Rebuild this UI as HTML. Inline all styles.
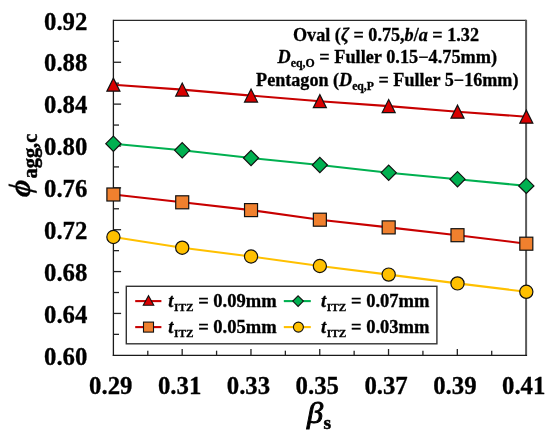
<!DOCTYPE html>
<html><head><meta charset="utf-8"><style>
html,body{margin:0;padding:0;background:#fff;overflow:hidden;}
svg{display:block;filter:blur(0.3px);}
text{font-family:"Liberation Serif","Times New Roman",serif;font-weight:bold;fill:#000;stroke:#000;stroke-width:0.3px;}
</style></head><body>
<svg width="550" height="438" viewBox="0 0 550 438">
<rect width="550" height="438" fill="#fff"/>
<line x1="113.4" y1="20.4" x2="526.1" y2="20.4" stroke="#2a2a2a" stroke-width="1.4"/>
<line x1="526.1" y1="19.7" x2="526.1" y2="355.3" stroke="#5a5a5a" stroke-width="2"/>
<line x1="113.4" y1="19.7" x2="113.4" y2="355.90000000000003" stroke="#1a1a1a" stroke-width="1.3"/>
<line x1="112.80000000000001" y1="355.3" x2="527.1" y2="355.3" stroke="#1a1a1a" stroke-width="1.3"/>
<line x1="113.4" y1="41.33" x2="119.00" y2="41.33" stroke="#222" stroke-width="1.3"/>
<line x1="113.4" y1="62.26" x2="121.10" y2="62.26" stroke="#222" stroke-width="1.3"/>
<line x1="113.4" y1="83.19" x2="119.00" y2="83.19" stroke="#222" stroke-width="1.3"/>
<line x1="113.4" y1="104.12" x2="121.10" y2="104.12" stroke="#222" stroke-width="1.3"/>
<line x1="113.4" y1="125.06" x2="119.00" y2="125.06" stroke="#222" stroke-width="1.3"/>
<line x1="113.4" y1="145.99" x2="121.10" y2="145.99" stroke="#222" stroke-width="1.3"/>
<line x1="113.4" y1="166.92" x2="119.00" y2="166.92" stroke="#222" stroke-width="1.3"/>
<line x1="113.4" y1="187.85" x2="121.10" y2="187.85" stroke="#222" stroke-width="1.3"/>
<line x1="113.4" y1="208.78" x2="119.00" y2="208.78" stroke="#222" stroke-width="1.3"/>
<line x1="113.4" y1="229.71" x2="121.10" y2="229.71" stroke="#222" stroke-width="1.3"/>
<line x1="113.4" y1="250.64" x2="119.00" y2="250.64" stroke="#222" stroke-width="1.3"/>
<line x1="113.4" y1="271.57" x2="121.10" y2="271.57" stroke="#222" stroke-width="1.3"/>
<line x1="113.4" y1="292.51" x2="119.00" y2="292.51" stroke="#222" stroke-width="1.3"/>
<line x1="113.4" y1="313.44" x2="121.10" y2="313.44" stroke="#222" stroke-width="1.3"/>
<line x1="113.4" y1="334.37" x2="119.00" y2="334.37" stroke="#222" stroke-width="1.3"/>
<line x1="147.79" y1="355.3" x2="147.79" y2="350.70" stroke="#222" stroke-width="1.3"/>
<line x1="182.18" y1="355.3" x2="182.18" y2="349.00" stroke="#222" stroke-width="1.3"/>
<line x1="216.58" y1="355.3" x2="216.58" y2="350.70" stroke="#222" stroke-width="1.3"/>
<line x1="250.97" y1="355.3" x2="250.97" y2="349.00" stroke="#222" stroke-width="1.3"/>
<line x1="285.36" y1="355.3" x2="285.36" y2="350.70" stroke="#222" stroke-width="1.3"/>
<line x1="319.75" y1="355.3" x2="319.75" y2="349.00" stroke="#222" stroke-width="1.3"/>
<line x1="354.14" y1="355.3" x2="354.14" y2="350.70" stroke="#222" stroke-width="1.3"/>
<line x1="388.53" y1="355.3" x2="388.53" y2="349.00" stroke="#222" stroke-width="1.3"/>
<line x1="422.93" y1="355.3" x2="422.93" y2="350.70" stroke="#222" stroke-width="1.3"/>
<line x1="457.32" y1="355.3" x2="457.32" y2="349.00" stroke="#222" stroke-width="1.3"/>
<line x1="491.71" y1="355.3" x2="491.71" y2="350.70" stroke="#222" stroke-width="1.3"/>
<polyline points="113.40,84.70 182.22,89.60 251.04,95.60 319.86,101.20 388.68,106.10 457.50,111.70 526.32,116.70" fill="none" stroke="#C80000" stroke-width="2.1"/>
<polyline points="113.40,143.70 182.22,150.30 251.04,158.00 319.86,165.00 388.68,172.70 457.50,179.20 526.32,185.90" fill="none" stroke="#00B050" stroke-width="2.1"/>
<polyline points="113.40,194.50 182.22,202.30 251.04,210.10 319.86,219.70 388.68,227.40 457.50,235.20 526.32,243.70" fill="none" stroke="#C80000" stroke-width="2.1"/>
<polyline points="113.40,237.00 182.22,247.70 251.04,256.50 319.86,266.00 388.68,274.60 457.50,283.40 526.32,291.80" fill="none" stroke="#FFC000" stroke-width="2.1"/>
<polygon points="106.90,91.20 119.90,91.20 113.40,78.20" fill="#D80000" stroke="#111" stroke-width="1.2" stroke-linejoin="miter"/>
<polygon points="175.72,96.10 188.72,96.10 182.22,83.10" fill="#D80000" stroke="#111" stroke-width="1.2" stroke-linejoin="miter"/>
<polygon points="244.54,102.10 257.54,102.10 251.04,89.10" fill="#D80000" stroke="#111" stroke-width="1.2" stroke-linejoin="miter"/>
<polygon points="313.36,107.70 326.36,107.70 319.86,94.70" fill="#D80000" stroke="#111" stroke-width="1.2" stroke-linejoin="miter"/>
<polygon points="382.18,112.60 395.18,112.60 388.68,99.60" fill="#D80000" stroke="#111" stroke-width="1.2" stroke-linejoin="miter"/>
<polygon points="451.00,118.20 464.00,118.20 457.50,105.20" fill="#D80000" stroke="#111" stroke-width="1.2" stroke-linejoin="miter"/>
<polygon points="519.82,123.20 532.82,123.20 526.32,110.20" fill="#D80000" stroke="#111" stroke-width="1.2" stroke-linejoin="miter"/>
<polygon points="113.40,136.10 121.00,143.70 113.40,151.30 105.80,143.70" fill="#00B050" stroke="#111" stroke-width="1.2"/>
<polygon points="182.22,142.70 189.82,150.30 182.22,157.90 174.62,150.30" fill="#00B050" stroke="#111" stroke-width="1.2"/>
<polygon points="251.04,150.40 258.64,158.00 251.04,165.60 243.44,158.00" fill="#00B050" stroke="#111" stroke-width="1.2"/>
<polygon points="319.86,157.40 327.46,165.00 319.86,172.60 312.26,165.00" fill="#00B050" stroke="#111" stroke-width="1.2"/>
<polygon points="388.68,165.10 396.28,172.70 388.68,180.30 381.08,172.70" fill="#00B050" stroke="#111" stroke-width="1.2"/>
<polygon points="457.50,171.60 465.10,179.20 457.50,186.80 449.90,179.20" fill="#00B050" stroke="#111" stroke-width="1.2"/>
<polygon points="526.32,178.30 533.92,185.90 526.32,193.50 518.72,185.90" fill="#00B050" stroke="#111" stroke-width="1.2"/>
<rect x="106.90" y="188.00" width="13" height="13" fill="#F0802E" stroke="#111" stroke-width="1.2"/>
<rect x="175.72" y="195.80" width="13" height="13" fill="#F0802E" stroke="#111" stroke-width="1.2"/>
<rect x="244.54" y="203.60" width="13" height="13" fill="#F0802E" stroke="#111" stroke-width="1.2"/>
<rect x="313.36" y="213.20" width="13" height="13" fill="#F0802E" stroke="#111" stroke-width="1.2"/>
<rect x="382.18" y="220.90" width="13" height="13" fill="#F0802E" stroke="#111" stroke-width="1.2"/>
<rect x="451.00" y="228.70" width="13" height="13" fill="#F0802E" stroke="#111" stroke-width="1.2"/>
<rect x="519.82" y="237.20" width="13" height="13" fill="#F0802E" stroke="#111" stroke-width="1.2"/>
<circle cx="113.40" cy="237.00" r="6.6" fill="#FFC000" stroke="#111" stroke-width="1.2"/>
<circle cx="182.22" cy="247.70" r="6.6" fill="#FFC000" stroke="#111" stroke-width="1.2"/>
<circle cx="251.04" cy="256.50" r="6.6" fill="#FFC000" stroke="#111" stroke-width="1.2"/>
<circle cx="319.86" cy="266.00" r="6.6" fill="#FFC000" stroke="#111" stroke-width="1.2"/>
<circle cx="388.68" cy="274.60" r="6.6" fill="#FFC000" stroke="#111" stroke-width="1.2"/>
<circle cx="457.50" cy="283.40" r="6.6" fill="#FFC000" stroke="#111" stroke-width="1.2"/>
<circle cx="526.32" cy="291.80" r="6.6" fill="#FFC000" stroke="#111" stroke-width="1.2"/>
<text transform="translate(87.40,29.60)" font-size="24.8" text-anchor="end">0.92</text>
<text transform="translate(87.40,71.46)" font-size="24.8" text-anchor="end">0.88</text>
<text transform="translate(87.40,113.32)" font-size="24.8" text-anchor="end">0.84</text>
<text transform="translate(87.40,155.19)" font-size="24.8" text-anchor="end">0.80</text>
<text transform="translate(87.40,197.05)" font-size="24.8" text-anchor="end">0.76</text>
<text transform="translate(87.40,238.91)" font-size="24.8" text-anchor="end">0.72</text>
<text transform="translate(87.40,280.77)" font-size="24.8" text-anchor="end">0.68</text>
<text transform="translate(87.40,322.64)" font-size="24.8" text-anchor="end">0.64</text>
<text transform="translate(87.40,364.50)" font-size="24.8" text-anchor="end">0.60</text>
<text transform="translate(110.80,393.80)" font-size="24.8" text-anchor="middle">0.29</text>
<text transform="translate(179.62,393.80)" font-size="24.8" text-anchor="middle">0.31</text>
<text transform="translate(248.44,393.80)" font-size="24.8" text-anchor="middle">0.33</text>
<text transform="translate(317.26,393.80)" font-size="24.8" text-anchor="middle">0.35</text>
<text transform="translate(386.08,393.80)" font-size="24.8" text-anchor="middle">0.37</text>
<text transform="translate(454.90,393.80)" font-size="24.8" text-anchor="middle">0.39</text>
<text transform="translate(523.72,393.80)" font-size="24.8" text-anchor="middle">0.41</text>
<rect x="126.3" y="286.3" width="310.60" height="57.50" fill="#fff" stroke="#333" stroke-width="1.4"/>
<line x1="135.2" y1="301.1" x2="161.4" y2="301.1" stroke="#C80000" stroke-width="2.1"/>
<polygon points="143.25,305.30 153.75,305.30 148.50,295.70" fill="#D80000" stroke="#111" stroke-width="1.1" stroke-linejoin="miter"/>
<line x1="135.2" y1="327.1" x2="161.4" y2="327.1" stroke="#C80000" stroke-width="2.1"/>
<rect x="143.50" y="322.10" width="10" height="10" fill="#F0802E" stroke="#111" stroke-width="1.1"/>
<line x1="283.8" y1="301.1" x2="310.8" y2="301.1" stroke="#00B050" stroke-width="2.1"/>
<polygon points="298.10,295.80 303.40,301.10 298.10,306.40 292.80,301.10" fill="#00B050" stroke="#111" stroke-width="1.1"/>
<line x1="283.8" y1="327.1" x2="310.8" y2="327.1" stroke="#FFC000" stroke-width="2.1"/>
<circle cx="298.40" cy="327.10" r="5.0" fill="#FFC000" stroke="#111" stroke-width="1.1"/>
<text transform="translate(168.30,306.60) scale(1.0361,1)" font-size="17.9"><tspan font-style="italic">t</tspan><tspan font-size="10.9" dx="0.6" dy="4.1">ITZ</tspan><tspan dy="-4.1"> = 0.09mm</tspan></text>
<text transform="translate(168.30,332.50) scale(1.0361,1)" font-size="17.9"><tspan font-style="italic">t</tspan><tspan font-size="10.9" dx="0.6" dy="4.1">ITZ</tspan><tspan dy="-4.1"> = 0.05mm</tspan></text>
<text transform="translate(321.10,306.60) scale(1.0361,1)" font-size="17.9"><tspan font-style="italic">t</tspan><tspan font-size="10.9" dx="0.6" dy="4.1">ITZ</tspan><tspan dy="-4.1"> = 0.07mm</tspan></text>
<text transform="translate(321.10,332.50) scale(1.0361,1)" font-size="17.9"><tspan font-style="italic">t</tspan><tspan font-size="10.9" dx="0.6" dy="4.1">ITZ</tspan><tspan dy="-4.1"> = 0.03mm</tspan></text>
<text transform="translate(293.00,40.60) scale(1.0145,1)" font-size="17.9">Oval (<tspan font-style="italic">ζ</tspan> = 0.75,<tspan font-style="italic">b</tspan>/<tspan font-style="italic">a</tspan> = 1.32</text>
<text transform="translate(277.60,63.40) scale(1.0203,1)" font-size="17.9"><tspan font-style="italic">D</tspan><tspan font-size="11.6" dy="3.7">eq,O</tspan><tspan dy="-3.7"> = Fuller 0.15−4.75mm)</tspan></text>
<text transform="translate(256.10,85.90) scale(1.0116,1)" font-size="17.9">Pentagon (<tspan font-style="italic">D</tspan><tspan font-size="11.6" dy="3.7">eq,P</tspan><tspan dy="-3.7"> = Fuller 5−16mm)</tspan></text>
<text transform="translate(307.00,423.00) scale(1.0800,1)" font-size="30" font-style="italic" style="font-weight:normal;stroke-width:0.9px">β</text>
<text transform="translate(323.60,429.40)" font-size="19.5" style="stroke-width:0.55px">s</text>
<text transform="translate(30.10,197.50) rotate(-90) skewX(-5) scale(0.9600,1)" font-size="31" font-style="italic">ϕ</text>
<text transform="translate(36.60,178.50) rotate(-90) scale(1.0200,1)" font-size="20" style="stroke-width:0.45px">agg,c</text>
</svg>
</body></html>
